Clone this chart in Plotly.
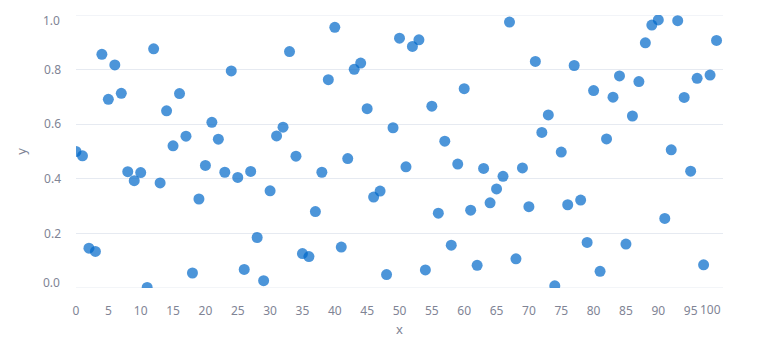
import plotly.graph_objects as go

x_values = list(range(100))
y_values = [
    0.500, 0.484, 0.146, 0.134, 0.856, 0.691, 0.817, 0.713, 0.426, 0.393,
    0.423, 0.002, 0.876, 0.385, 0.649, 0.521, 0.712, 0.556, 0.055, 0.326,
    0.449, 0.607, 0.545, 0.424, 0.795, 0.405, 0.068, 0.427, 0.185, 0.027,
    0.356, 0.557, 0.589, 0.866, 0.483, 0.126, 0.115, 0.280, 0.424, 0.763,
    0.955, 0.150, 0.474, 0.801, 0.824, 0.657, 0.333, 0.355, 0.049, 0.587,
    0.915, 0.444, 0.885, 0.909, 0.066, 0.666, 0.274, 0.538, 0.157, 0.454,
    0.730, 0.285, 0.083, 0.438, 0.312, 0.363, 0.409, 0.974, 0.107, 0.440,
    0.298, 0.830, 0.570, 0.634, 0.008, 0.498, 0.305, 0.815, 0.322, 0.167,
    0.723, 0.061, 0.546, 0.699, 0.777, 0.161, 0.630, 0.756, 0.898, 0.963,
    0.982, 0.255, 0.506, 0.979, 0.698, 0.428, 0.768, 0.085, 0.780, 0.907,
]
x_ticks = [0, 5, 10, 15, 20, 25, 30, 35, 40, 45, 50, 55, 60, 65, 70, 75, 80, 85, 90, 95]
x_end_label = "100"
y_ticks = [0.2, 0.4, 0.6, 0.8]
y_end_labels = ["0.0", "1.0"]
x_title = "x"
y_title = "y"

FONT = "Source Sans Pro, Noto Sans, Open Sans, sans-serif"
LABEL_COLOR = "#808495"
GRID = "#e6eaf1"

fig = go.Figure(
    go.Scatter(
        x=x_values,
        y=y_values,
        mode="markers",
        marker=dict(color="#0068c9", opacity=0.7, size=11, line=dict(width=0)),
        cliponaxis=True,
    )
)

fig.update_layout(
    width=768,
    height=339,
    margin=dict(l=76, r=45, t=15, b=51, autoexpand=False),
    paper_bgcolor="white",
    plot_bgcolor="white",
    showlegend=False,
    font=dict(family=FONT, size=12, color=LABEL_COLOR),
)

fig.update_xaxes(
    range=[0, 100],
    tickvals=x_ticks,
    ticktext=[str(v) for v in x_ticks],
    showgrid=False,
    zeroline=False,
    showline=False,
    ticks="",
    automargin=False,
    ticklabelstandoff=14,
    tickfont=dict(family=FONT, size=12, color=LABEL_COLOR),
)
fig.update_yaxes(
    range=[0, 1.0],
    tickvals=y_ticks,
    ticktext=["%.1f" % v for v in y_ticks],
    showgrid=True,
    gridcolor=GRID,
    gridwidth=1,
    zeroline=False,
    showline=False,
    ticks="",
    automargin=False,
    ticklabelstandoff=14,
    tickfont=dict(family=FONT, size=12, color=LABEL_COLOR),
    title=dict(text=y_title, standoff=14, font=dict(family=FONT, size=13, color=LABEL_COLOR)),
)

# gridlines at the ends of the y range
for yv in [0.0, 1.0]:
    fig.add_hline(y=yv, line=dict(color=GRID, width=1), layer="below")

# x axis title near the bottom edge
fig.add_annotation(
    x=0.5, y=0, xref="paper", yref="paper", text=x_title, showarrow=False,
    xanchor="center", yanchor="top", yshift=-30,
    font=dict(family=FONT, size=13, color=LABEL_COLOR),
)

# flush end labels
fig.add_annotation(
    x=100, y=0, xref="x", yref="paper", text=x_end_label, showarrow=False,
    xanchor="right", yanchor="top", yshift=-11,
    font=dict(family=FONT, size=12, color=LABEL_COLOR),
)
fig.add_annotation(
    x=0, y=0.0, xref="paper", yref="y", text=y_end_labels[0], showarrow=False,
    xanchor="right", yanchor="bottom", xshift=-14, yshift=-5,
    font=dict(family=FONT, size=12, color=LABEL_COLOR),
)
fig.add_annotation(
    x=0, y=1.0, xref="paper", yref="y", text=y_end_labels[1], showarrow=False,
    xanchor="right", yanchor="top", xshift=-14, yshift=5,
    font=dict(family=FONT, size=12, color=LABEL_COLOR),
)

fig.write_html("out.html")
